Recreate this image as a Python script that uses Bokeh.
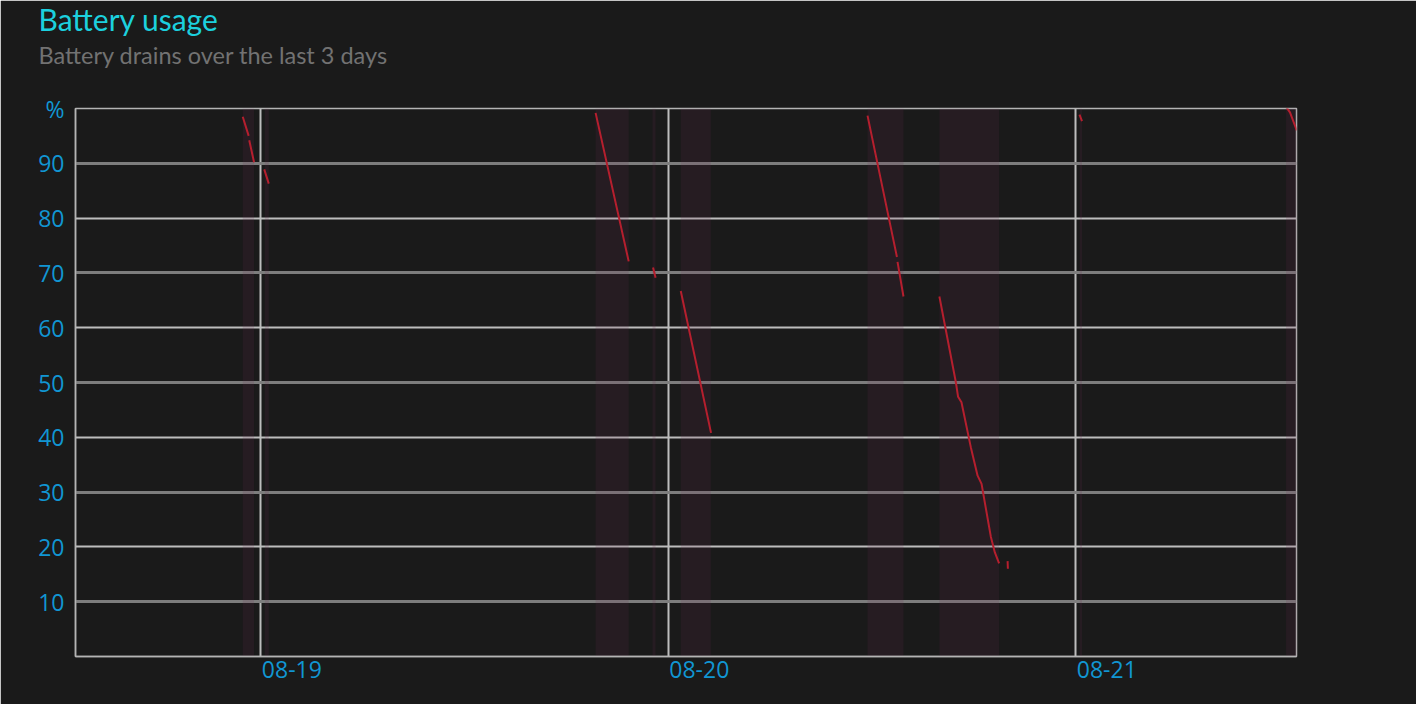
import numpy as np
import pandas as pd
from bokeh.plotting import figure
from bokeh.models import FixedTicker, Grid, Title, ColumnDataSource, DatetimeAxis
from bokeh.embed import file_html
from bokeh.resources import INLINE

# ---- data ----
title_text = "Battery usage"
subtitle_text = "Battery drains over the last 3 days"

x_start = "2024-08-18 13:05"
x_end = "2024-08-21 13:00"

day_ticks = ["2024-08-19", "2024-08-20", "2024-08-21"]
day_labels = ["08-19", "08-20", "08-21"]

y_ticks = [10, 20, 30, 40, 50, 60, 70, 80, 90, 100]
y_labels = ["10", "20", "30", "40", "50", "60", "70", "80", "90", "%"]

# battery level readings during drains (None = gap in readings)
drain_times = [
    "2024-08-18 22:56", "2024-08-18 23:17", None,
    "2024-08-18 23:19", "2024-08-18 23:36", None,
    "2024-08-19 00:12", "2024-08-19 00:28", None,
    "2024-08-19 19:43", "2024-08-19 21:40", None,
    "2024-08-19 23:06", "2024-08-19 23:15", None,
    "2024-08-20 00:44", "2024-08-20 02:31", None,
    "2024-08-20 11:44", "2024-08-20 13:28", None,
    "2024-08-20 13:30", "2024-08-20 13:51", None,
    "2024-08-20 15:58", "2024-08-20 16:56", "2024-08-20 17:04", "2024-08-20 17:16",
    "2024-08-20 17:49", "2024-08-20 18:13", "2024-08-20 18:27", "2024-08-20 19:00",
    "2024-08-20 19:14", "2024-08-20 19:29", None,
    "2024-08-20 19:59", "2024-08-20 20:00", None,
    "2024-08-21 00:13", "2024-08-21 00:22", None,
    "2024-08-21 12:23", "2024-08-21 12:37", "2024-08-21 13:01",
]
drain_levels = [
    98.5, 95.0, None,
    94.2, 90.2, None,
    88.9, 86.3, None,
    99.2, 72.1, None,
    71.0, 69.1, None,
    66.7, 40.8, None,
    98.7, 72.9, None,
    72.0, 65.7, None,
    65.7, 50.1, 47.4, 46.4,
    38.2, 33.0, 31.5, 21.8,
    19.0, 17.0, None,
    17.4, 16.0, None,
    98.9, 97.7, None,
    100.3, 99.3, 96.0,
]

# drain session spans (shaded)
band_starts = ["2024-08-18 22:56", "2024-08-19 00:14", "2024-08-19 19:43", "2024-08-19 23:04",
               "2024-08-20 00:44", "2024-08-20 11:44", "2024-08-20 15:58", "2024-08-21 00:14",
               "2024-08-21 12:23"]
band_ends = ["2024-08-18 23:36", "2024-08-19 00:28", "2024-08-19 21:40", "2024-08-19 23:15",
             "2024-08-20 02:30", "2024-08-20 13:51", "2024-08-20 19:29", "2024-08-21 00:22",
             "2024-08-21 13:05"]

# ---- styling ----
BG = "#1a1a1a"
BLUE = "#1196d3"
FONT = "Open Sans"
TFONT = "Lato"
FRAME_W, FRAME_H = 1221, 548
LABEL_SHIFT_PX = 31  # x labels start at their day line

xs = pd.to_datetime([t if t is not None else pd.NaT for t in drain_times])
ys = np.array([v if v is not None else np.nan for v in drain_levels], dtype=float)

t0, t1 = pd.Timestamp(x_start), pd.Timestamp(x_end)

p = figure(
    frame_width=FRAME_W, frame_height=FRAME_H,
    x_axis_type=None,
    x_range=(t0, t1),
    y_range=(0, 100),
    output_backend="svg", toolbar_location=None,
    background_fill_color=BG, border_fill_color=BG,
    min_border_left=75, min_border_right=120, min_border_bottom=48, min_border_top=0,
    outline_line_color="#b4b4b4", outline_line_width=1.5,
)

# titles (first added = closest to plot)
spacer = Title(text=" ", align="left", offset=-37, standoff=22,
               text_font=TFONT, text_font_size="10px", text_color=BG)
sub = Title(text=subtitle_text, align="left", offset=-37, standoff=8,
            text_font=TFONT, text_font_size="23.5px", text_font_style="normal",
            text_color="#727272")
ttl = Title(text=title_text, align="left", offset=-37, standoff=-4,
            text_font=TFONT, text_font_size="30px", text_font_style="normal",
            text_color="#1cd0de")
p.add_layout(spacer, "above")
p.add_layout(sub, "above")
p.add_layout(ttl, "above")

# bands
bsrc = ColumnDataSource(dict(left=pd.to_datetime(band_starts), right=pd.to_datetime(band_ends)))
p.quad(left="left", right="right", bottom=0, top=100, source=bsrc,
       fill_color="#6a274f", fill_alpha=0.15, line_color=None)

# drain line
p.line(xs, ys, line_color="#b51f2e", line_width=2)

# grids
day_ms = [float(pd.Timestamp(d).value // 10**6) for d in day_ticks]
p.xgrid.visible = False
p.ygrid.visible = False
g_x = Grid(dimension=0, ticker=FixedTicker(ticks=day_ms),
           grid_line_color="#bdbdbd", grid_line_width=2)
g_odd = Grid(dimension=1, ticker=FixedTicker(ticks=[10, 30, 50, 70, 90]),
             grid_line_color="#7d7d7d", grid_line_width=3)
g_even = Grid(dimension=1, ticker=FixedTicker(ticks=[20, 40, 60, 80]),
              grid_line_color="#bdbdbd", grid_line_width=2)
p.add_layout(g_x)
p.add_layout(g_odd)
p.add_layout(g_even)

# x axis: labels start at the day line
ms_per_px = (t1 - t0).total_seconds() * 1000 / FRAME_W
lab_ms = [d + LABEL_SHIFT_PX * ms_per_px for d in day_ms]
xaxis = DatetimeAxis(ticker=FixedTicker(ticks=lab_ms))
xaxis.major_label_overrides = {k: v for k, v in zip(lab_ms, day_labels)}
p.add_layout(xaxis, "below")

p.yaxis.ticker = FixedTicker(ticks=y_ticks)
p.yaxis.major_label_overrides = {k: v for k, v in zip(y_ticks, y_labels)}

for ax in (xaxis, p.yaxis[0]):
    ax.axis_line_color = "#b4b4b4"
    ax.axis_line_width = 1.5
    ax.major_tick_line_color = None
    ax.minor_tick_line_color = None
    ax.major_tick_out = 0
    ax.major_tick_in = 0
    ax.major_label_text_color = BLUE
    ax.major_label_text_font = FONT
    ax.major_label_text_font_size = "23px"
    ax.major_label_text_font_style = "normal"
xaxis.major_label_standoff = 4
p.yaxis.major_label_standoff = 11

open("out.html", "w").write(file_html(p, INLINE))
